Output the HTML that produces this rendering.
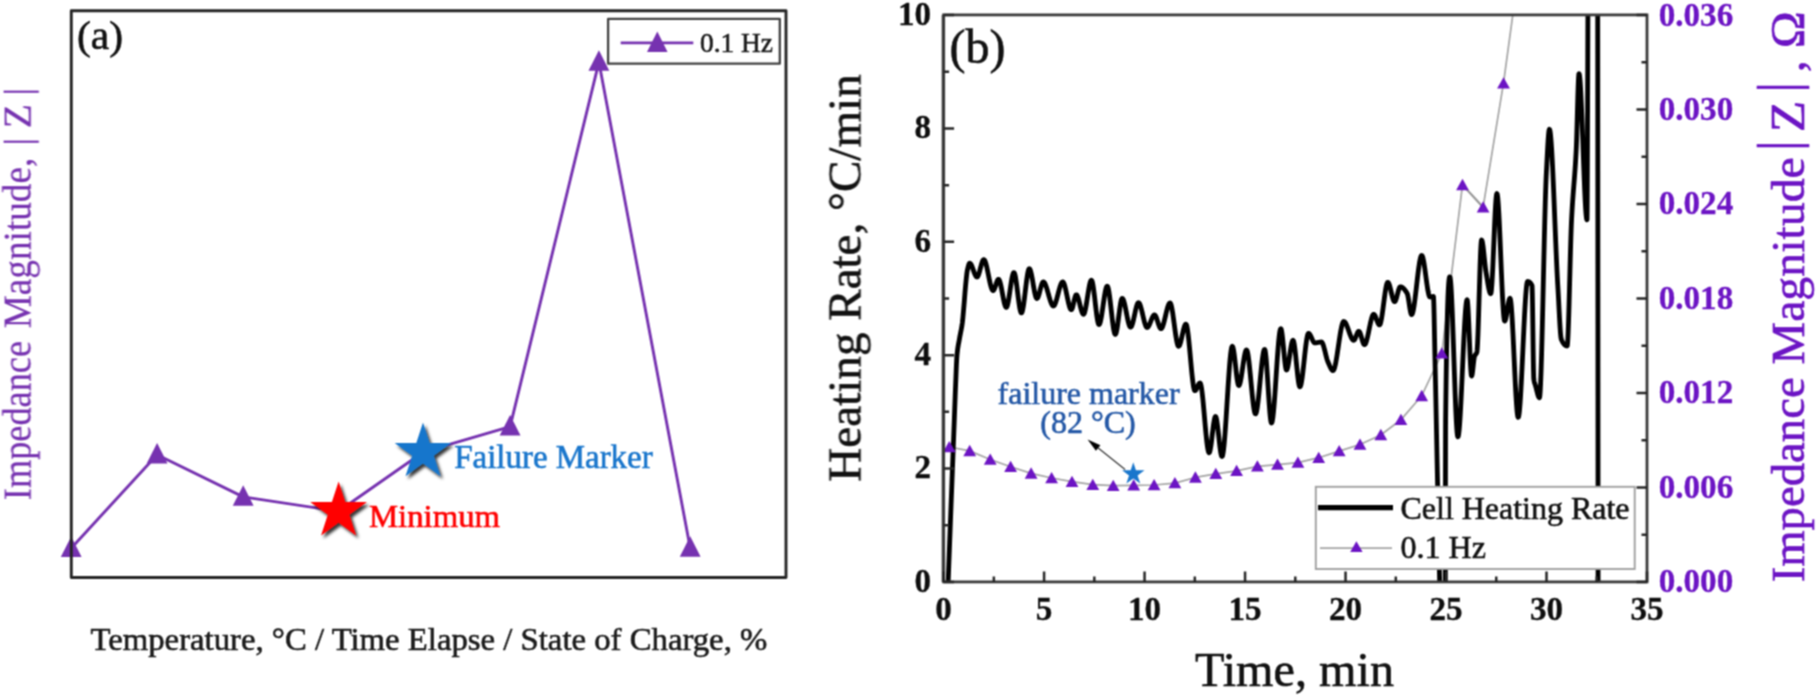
<!DOCTYPE html>
<html lang="en">
<head>
<meta charset="utf-8">
<title>Impedance magnitude failure marker</title>
<style>
html, body { margin: 0; padding: 0; background: #ffffff; }
body { width: 1818px; height: 697px; overflow: hidden; }
svg { display: block; font-family: "Liberation Serif", serif; }
text { stroke-width: 0.6px; stroke-linejoin: round; }
g.tk text { stroke-width: 0.3px; }
g.lt text { stroke-width: 0.25px; }
</style>
</head>
<body>
<svg width="1818" height="697" viewBox="0 0 1818 697">
<defs>
<filter id="sh" x="-20%" y="-20%" width="150%" height="150%">
<feDropShadow dx="2.4" dy="2.9" stdDeviation="1.7" flood-color="#000" flood-opacity="0.8"/>
</filter>
<filter id="soft" filterUnits="userSpaceOnUse" x="0" y="0" width="1818" height="697" color-interpolation-filters="sRGB">
<feConvolveMatrix order="3" kernelMatrix="1 2 1 2 4 2 1 2 1" edgeMode="duplicate" preserveAlpha="false"/>
</filter>
</defs>
<rect x="0" y="0" width="1818" height="697" fill="#ffffff"/>
<g filter="url(#soft)">
<g id="panelA">
<polyline fill="none" stroke="#7632B0" stroke-width="2.9" stroke-linejoin="round" points="71.2,548.2 157.1,454.7 243.2,496.9 338.6,511.3 423,452.2 510.1,426.7 598.9,62.1 690.2,548.1"/>
<polygon fill="#7632B0" points="71.2,536.45 60.8,556.95 81.6,556.95"/>
<polygon fill="#7632B0" points="157.1,442.95 146.7,463.45 167.5,463.45"/>
<polygon fill="#7632B0" points="243.2,485.15 232.8,505.65 253.6,505.65"/>
<polygon fill="#7632B0" points="510.1,414.95 499.7,435.45 520.5,435.45"/>
<polygon fill="#7632B0" points="598.9,50.35 588.5,70.85 609.3,70.85"/>
<polygon fill="#7632B0" points="690.2,536.35 679.8,556.85 700.6,556.85"/>
<rect x="71.3" y="10.8" width="714.7" height="566.7" fill="none" stroke="#242424" stroke-width="2.9" stroke-linejoin="round"/>
<g filter="url(#sh)">
<polygon fill="#1976CC" points="423,422.4 429.69,442.99 451.34,442.99 433.83,455.72 440.52,476.31 423,463.58 405.48,476.31 412.17,455.72 394.66,442.99 416.31,442.99"/>
<polygon fill="#FF0000" points="338.6,481.5 345.29,502.09 366.94,502.09 349.43,514.82 356.12,535.41 338.6,522.68 321.08,535.41 327.77,514.82 310.26,502.09 331.91,502.09"/>
</g>
<text x="454.2" y="468.2" font-size="33" fill="#1976CC" stroke="#1976CC" textLength="198.5" lengthAdjust="spacingAndGlyphs">Failure Marker</text>
<text x="369" y="526.7" font-size="32.5" fill="#FF0000" stroke="#FF0000" textLength="131" lengthAdjust="spacingAndGlyphs">Minimum</text>
<rect x="608.1" y="18.9" width="171.7" height="44.8" fill="#fff" stroke="#404040" stroke-width="2.3" stroke-linejoin="round"/>
<line x1="620.7" y1="42.9" x2="693.3" y2="42.9" stroke="#7632B0" stroke-width="2.7"/>
<polygon fill="#7632B0" points="657.3,31.5 647,52.1 667.6,52.1"/>
<text x="700" y="51.8" font-size="28" fill="#1a1a1a" stroke="#1a1a1a" textLength="73" lengthAdjust="spacingAndGlyphs">0.1 Hz</text>
<text x="77" y="49.3" font-size="41" fill="#111" stroke="#111" textLength="46.2" lengthAdjust="spacingAndGlyphs">(a)</text>
<text x="90.5" y="649.5" font-size="32" fill="#1a1a1a" stroke="#1a1a1a" textLength="676.8" lengthAdjust="spacingAndGlyphs">Temperature, °C / Time Elapse / State of Charge, %</text>
<g class="lt" transform="translate(30.6,0) rotate(-90)" fill="#7632B0" stroke="#7632B0" font-size="39.5">
<text x="-500.2" y="0" textLength="159.3" lengthAdjust="spacingAndGlyphs">Impedance</text>
<text x="-328.3" y="0" textLength="170.6" lengthAdjust="spacingAndGlyphs">Magnitude,</text>
<text x="-145.6" y="0" font-size="37.5">|</text>
<text x="-128.2" y="0">Z</text>
<text x="-95.4" y="0" font-size="37.5">|</text>
</g>
</g>
<g id="panelB">
<clipPath id="clipB"><rect x="943.6" y="15.1" width="703.4" height="566.8"/></clipPath>
<g clip-path="url(#clipB)">
<polyline fill="none" stroke="#a4a4a4" stroke-width="1.7" points="949.3,447 969.7,450.9 990.2,459.5 1010.6,466.8 1031.1,473.4 1051.6,478 1072,481.7 1092.8,484.7 1113.2,485.7 1133.7,485.3 1154.1,485 1174.9,483.1 1195.4,477.4 1215.8,473.8 1236.6,470.8 1257.4,466.3 1277.5,464.6 1297.9,462.6 1318.7,457.7 1339.2,451.1 1360,444.5 1380.8,434.9 1400.9,419.8 1421.7,395.9 1441.8,353.3 1462.5,184.9 1483.1,207.2 1503.5,83.2 1523,-60"/>
<line x1="1462.5" y1="184.9" x2="1483.1" y2="207.2" stroke="#999" stroke-width="2.1"/>
</g>
<g clip-path="url(#clipB)">
<path d="M947.5 600 L947.6 597.27 L947.7 594.55 L947.8 591.83 L947.9 589.11 L948 586.4 L948.1 583.7 L948.2 581 L948.31 578.02 L948.42 575.05 L948.53 572.08 L948.64 569.12 L948.75 566.15 L948.86 563.2 L948.97 560.24 L949.08 557.29 L949.19 554.34 L949.31 551.39 L949.42 548.45 L949.53 545.51 L949.64 542.57 L949.75 539.64 L949.86 536.7 L949.97 533.77 L950.08 530.85 L950.19 527.92 L950.3 525 L950.41 522.08 L950.52 519.17 L950.63 516.26 L950.74 513.36 L950.85 510.46 L950.96 507.57 L951.07 504.68 L951.18 501.79 L951.29 498.9 L951.41 496.01 L951.52 493.13 L951.63 490.24 L951.74 487.35 L951.85 484.47 L951.96 481.58 L952.07 478.69 L952.18 475.8 L952.29 472.9 L952.4 470 L952.51 467.07 L952.62 464.14 L952.74 461.21 L952.85 458.28 L952.96 455.35 L953.07 452.42 L953.18 449.49 L953.29 446.56 L953.41 443.62 L953.52 440.69 L953.63 437.75 L953.74 434.8 L953.85 431.85 L953.96 428.9 L954.08 425.94 L954.19 422.97 L954.3 420 L954.41 417.08 L954.52 414.12 L954.62 411.12 L954.73 408.1 L954.84 405.07 L954.95 402.06 L955.06 399.06 L955.17 396.11 L955.27 393.21 L955.38 390.39 L955.49 387.64 L955.6 385 L955.74 381.58 L955.88 378.07 L956.02 374.54 L956.16 371.04 L956.3 367.67 L956.44 364.48 L956.58 361.55 L956.72 358.95 L956.86 356.74 L957 355 L957.29 352.17 L957.58 349.76 L957.87 347.67 L958.16 345.85 L958.44 344.21 L958.73 342.68 L959.02 341.19 L959.31 339.65 L959.6 338 L959.9 336.28 L960.2 334.7 L960.5 333.2 L960.8 331.73 L961.1 330.24 L961.4 328.67 L961.7 326.98 L962 325.11 L962.3 323 L962.58 320.65 L962.87 317.89 L963.15 314.83 L963.43 311.59 L963.72 308.28 L964 305 L964.21 302.46 L964.43 299.76 L964.64 296.99 L964.86 294.21 L965.07 291.5 L965.29 288.94 L965.5 286.6 L965.77 283.78 L966.04 280.96 L966.31 278.23 L966.59 275.68 L966.86 273.4 L967.13 271.47 L967.4 270 L967.69 268.72 L967.98 267.49 L968.26 266.34 L968.55 265.31 L968.84 264.44 L969.12 263.78 L969.41 263.35 L969.7 263.2 L969.99 263.26 L970.28 263.45 L970.58 263.75 L970.87 264.15 L971.16 264.64 L971.45 265.2 L971.74 265.84 L972.04 266.53 L972.33 267.28 L972.62 268.06 L972.91 268.86 L973.2 269.69 L973.5 270.51 L973.79 271.34 L974.08 272.14 L974.37 272.92 L974.66 273.67 L974.96 274.36 L975.25 275 L975.54 275.56 L975.83 276.05 L976.12 276.45 L976.42 276.75 L976.71 276.94 L977 277 L977.3 276.9 L977.59 276.63 L977.89 276.19 L978.18 275.6 L978.48 274.89 L978.77 274.07 L979.07 273.15 L979.37 272.15 L979.66 271.09 L979.96 269.99 L980.25 268.87 L980.55 267.73 L980.84 266.61 L981.14 265.51 L981.43 264.45 L981.73 263.45 L982.03 262.53 L982.32 261.71 L982.62 261 L982.91 260.41 L983.21 259.97 L983.5 259.7 L983.8 259.6 L984.09 259.69 L984.38 259.95 L984.67 260.37 L984.96 260.93 L985.25 261.63 L985.54 262.46 L985.83 263.4 L986.12 264.44 L986.42 265.58 L986.71 266.79 L987 268.07 L987.29 269.41 L987.58 270.79 L987.87 272.21 L988.16 273.65 L988.45 275.1 L988.74 276.55 L989.03 277.99 L989.32 279.41 L989.61 280.79 L989.9 282.13 L990.19 283.41 L990.48 284.62 L990.77 285.76 L991.07 286.8 L991.36 287.74 L991.65 288.57 L991.94 289.27 L992.23 289.83 L992.52 290.25 L992.81 290.51 L993.1 290.6 L993.4 290.5 L993.7 290.21 L994 289.76 L994.3 289.17 L994.6 288.47 L994.9 287.67 L995.2 286.8 L995.5 285.89 L995.8 284.95 L996.1 284.01 L996.4 283.1 L996.7 282.23 L997 281.43 L997.3 280.73 L997.6 280.14 L997.9 279.69 L998.2 279.4 L998.5 279.3 L998.8 279.42 L999.1 279.77 L999.4 280.34 L999.7 281.09 L1000 282.02 L1000.3 283.1 L1000.6 284.31 L1000.9 285.64 L1001.2 287.07 L1001.5 288.57 L1001.8 290.13 L1002.1 291.73 L1002.4 293.35 L1002.7 294.97 L1003 296.57 L1003.3 298.13 L1003.6 299.63 L1003.9 301.06 L1004.2 302.39 L1004.5 303.6 L1004.8 304.68 L1005.1 305.61 L1005.4 306.36 L1005.7 306.93 L1006 307.28 L1006.3 307.4 L1006.59 307.25 L1006.88 306.81 L1007.18 306.12 L1007.47 305.18 L1007.76 304.03 L1008.05 302.7 L1008.35 301.19 L1008.64 299.54 L1008.93 297.78 L1009.22 295.92 L1009.52 293.98 L1009.81 292 L1010.1 290 L1010.39 288 L1010.68 286.02 L1010.98 284.08 L1011.27 282.22 L1011.56 280.46 L1011.85 278.81 L1012.15 277.3 L1012.44 275.97 L1012.73 274.82 L1013.02 273.88 L1013.32 273.19 L1013.61 272.75 L1013.9 272.6 L1014.2 272.79 L1014.5 273.33 L1014.8 274.2 L1015.1 275.36 L1015.4 276.79 L1015.7 278.45 L1016 280.31 L1016.3 282.34 L1016.6 284.51 L1016.9 286.79 L1017.2 289.14 L1017.5 291.54 L1017.8 293.96 L1018.1 296.36 L1018.4 298.71 L1018.7 300.99 L1019 303.16 L1019.3 305.19 L1019.6 307.05 L1019.9 308.71 L1020.2 310.14 L1020.5 311.3 L1020.8 312.17 L1021.1 312.71 L1021.4 312.9 L1021.69 312.72 L1021.99 312.21 L1022.28 311.38 L1022.57 310.28 L1022.86 308.91 L1023.16 307.32 L1023.45 305.53 L1023.74 303.56 L1024.03 301.44 L1024.33 299.2 L1024.62 296.87 L1024.91 294.47 L1025.2 292.03 L1025.5 289.57 L1025.79 287.13 L1026.08 284.73 L1026.37 282.4 L1026.67 280.16 L1026.96 278.04 L1027.25 276.07 L1027.54 274.28 L1027.84 272.69 L1028.13 271.32 L1028.42 270.22 L1028.71 269.39 L1029.01 268.88 L1029.3 268.7 L1029.59 268.83 L1029.88 269.2 L1030.18 269.8 L1030.47 270.6 L1030.76 271.58 L1031.05 272.73 L1031.35 274.02 L1031.64 275.43 L1031.93 276.94 L1032.22 278.53 L1032.52 280.19 L1032.81 281.88 L1033.1 283.6 L1033.39 285.32 L1033.68 287.01 L1033.98 288.67 L1034.27 290.26 L1034.56 291.77 L1034.85 293.18 L1035.15 294.47 L1035.44 295.62 L1035.73 296.6 L1036.02 297.4 L1036.32 298 L1036.61 298.37 L1036.9 298.5 L1037.19 298.4 L1037.48 298.11 L1037.77 297.66 L1038.06 297.05 L1038.35 296.32 L1038.65 295.47 L1038.94 294.53 L1039.23 293.51 L1039.52 292.44 L1039.81 291.33 L1040.1 290.2 L1040.39 289.07 L1040.68 287.96 L1040.97 286.89 L1041.26 285.87 L1041.55 284.93 L1041.85 284.08 L1042.14 283.35 L1042.43 282.74 L1042.72 282.29 L1043.01 282 L1043.3 281.9 L1043.6 281.96 L1043.89 282.14 L1044.19 282.43 L1044.49 282.82 L1044.79 283.31 L1045.08 283.89 L1045.38 284.54 L1045.68 285.27 L1045.97 286.07 L1046.27 286.93 L1046.57 287.84 L1046.86 288.79 L1047.16 289.78 L1047.46 290.79 L1047.76 291.83 L1048.05 292.89 L1048.35 293.95 L1048.65 295.01 L1048.94 296.07 L1049.24 297.11 L1049.54 298.12 L1049.84 299.11 L1050.13 300.06 L1050.43 300.97 L1050.73 301.83 L1051.02 302.63 L1051.32 303.36 L1051.62 304.01 L1051.91 304.59 L1052.21 305.08 L1052.51 305.47 L1052.81 305.76 L1053.1 305.94 L1053.4 306 L1053.7 305.93 L1054 305.71 L1054.3 305.37 L1054.6 304.9 L1054.9 304.32 L1055.2 303.64 L1055.5 302.87 L1055.8 302.01 L1056.1 301.09 L1056.4 300.09 L1056.7 299.05 L1057 297.96 L1057.3 296.84 L1057.6 295.69 L1057.9 294.53 L1058.2 293.37 L1058.5 292.21 L1058.8 291.06 L1059.1 289.94 L1059.4 288.85 L1059.7 287.81 L1060 286.81 L1060.3 285.89 L1060.6 285.03 L1060.9 284.26 L1061.2 283.58 L1061.5 283 L1061.8 282.53 L1062.1 282.19 L1062.4 281.97 L1062.7 281.9 L1063 282 L1063.29 282.28 L1063.59 282.73 L1063.89 283.34 L1064.18 284.09 L1064.48 284.98 L1064.78 285.98 L1065.07 287.08 L1065.37 288.27 L1065.67 289.54 L1065.96 290.86 L1066.26 292.24 L1066.56 293.65 L1066.85 295.08 L1067.15 296.52 L1067.44 297.95 L1067.74 299.36 L1068.04 300.74 L1068.33 302.06 L1068.63 303.33 L1068.93 304.52 L1069.22 305.62 L1069.52 306.62 L1069.82 307.51 L1070.11 308.26 L1070.41 308.87 L1070.71 309.32 L1071 309.6 L1071.3 309.7 L1071.59 309.55 L1071.89 309.13 L1072.18 308.47 L1072.48 307.61 L1072.77 306.59 L1073.06 305.44 L1073.36 304.2 L1073.65 302.91 L1073.95 301.59 L1074.24 300.3 L1074.54 299.06 L1074.83 297.91 L1075.12 296.89 L1075.42 296.03 L1075.71 295.37 L1076.01 294.95 L1076.3 294.8 L1076.59 294.89 L1076.88 295.15 L1077.16 295.58 L1077.45 296.14 L1077.74 296.83 L1078.03 297.63 L1078.32 298.53 L1078.6 299.51 L1078.89 300.56 L1079.18 301.66 L1079.47 302.8 L1079.76 303.97 L1080.04 305.13 L1080.33 306.3 L1080.62 307.44 L1080.91 308.54 L1081.2 309.59 L1081.48 310.57 L1081.77 311.47 L1082.06 312.27 L1082.35 312.96 L1082.64 313.52 L1082.92 313.95 L1083.21 314.21 L1083.5 314.3 L1083.79 314.16 L1084.09 313.77 L1084.38 313.13 L1084.67 312.28 L1084.96 311.22 L1085.26 310 L1085.55 308.61 L1085.84 307.09 L1086.13 305.46 L1086.43 303.73 L1086.72 301.93 L1087.01 300.08 L1087.3 298.2 L1087.6 296.3 L1087.89 294.42 L1088.18 292.57 L1088.47 290.77 L1088.77 289.04 L1089.06 287.41 L1089.35 285.89 L1089.64 284.5 L1089.94 283.28 L1090.23 282.22 L1090.52 281.37 L1090.81 280.73 L1091.11 280.34 L1091.4 280.2 L1091.69 280.39 L1091.98 280.95 L1092.28 281.84 L1092.57 283.03 L1092.86 284.49 L1093.15 286.2 L1093.45 288.12 L1093.74 290.22 L1094.03 292.48 L1094.32 294.85 L1094.62 297.32 L1094.91 299.84 L1095.2 302.4 L1095.49 304.96 L1095.78 307.48 L1096.08 309.95 L1096.37 312.32 L1096.66 314.58 L1096.95 316.68 L1097.25 318.6 L1097.54 320.31 L1097.83 321.77 L1098.12 322.96 L1098.42 323.85 L1098.71 324.41 L1099 324.6 L1099.29 324.46 L1099.59 324.04 L1099.88 323.37 L1100.17 322.47 L1100.46 321.36 L1100.76 320.07 L1101.05 318.6 L1101.34 316.99 L1101.64 315.25 L1101.93 313.4 L1102.22 311.48 L1102.51 309.49 L1102.81 307.45 L1103.1 305.4 L1103.39 303.35 L1103.69 301.31 L1103.98 299.32 L1104.27 297.4 L1104.56 295.55 L1104.86 293.81 L1105.15 292.2 L1105.44 290.73 L1105.74 289.44 L1106.03 288.33 L1106.32 287.43 L1106.61 286.76 L1106.91 286.34 L1107.2 286.2 L1107.5 286.39 L1107.8 286.95 L1108.1 287.85 L1108.4 289.06 L1108.7 290.55 L1109 292.28 L1109.3 294.24 L1109.6 296.39 L1109.9 298.7 L1110.2 301.14 L1110.5 303.68 L1110.8 306.3 L1111.1 308.96 L1111.4 311.64 L1111.7 314.3 L1112 316.92 L1112.3 319.46 L1112.6 321.9 L1112.9 324.21 L1113.2 326.36 L1113.5 328.32 L1113.8 330.05 L1114.1 331.54 L1114.4 332.75 L1114.7 333.65 L1115 334.21 L1115.3 334.4 L1115.59 334.22 L1115.88 333.69 L1116.16 332.85 L1116.45 331.73 L1116.74 330.36 L1117.03 328.77 L1117.31 327 L1117.6 325.07 L1117.89 323.01 L1118.17 320.86 L1118.46 318.64 L1118.75 316.4 L1119.04 314.16 L1119.33 311.94 L1119.61 309.79 L1119.9 307.73 L1120.19 305.8 L1120.47 304.03 L1120.76 302.44 L1121.05 301.07 L1121.34 299.95 L1121.62 299.11 L1121.91 298.58 L1122.2 298.4 L1122.5 298.51 L1122.8 298.82 L1123.1 299.32 L1123.4 300 L1123.7 300.83 L1124 301.8 L1124.3 302.9 L1124.6 304.11 L1124.9 305.41 L1125.2 306.8 L1125.5 308.24 L1125.8 309.74 L1126.1 311.26 L1126.4 312.8 L1126.7 314.34 L1127 315.86 L1127.3 317.36 L1127.6 318.8 L1127.9 320.19 L1128.2 321.49 L1128.5 322.7 L1128.8 323.8 L1129.1 324.77 L1129.4 325.6 L1129.7 326.28 L1130 326.78 L1130.3 327.09 L1130.6 327.2 L1130.89 327.1 L1131.19 326.82 L1131.48 326.36 L1131.77 325.75 L1132.06 324.99 L1132.36 324.11 L1132.65 323.11 L1132.94 322.02 L1133.23 320.85 L1133.53 319.61 L1133.82 318.31 L1134.11 316.98 L1134.4 315.63 L1134.7 314.27 L1134.99 312.92 L1135.28 311.59 L1135.57 310.29 L1135.87 309.05 L1136.16 307.88 L1136.45 306.79 L1136.74 305.79 L1137.04 304.91 L1137.33 304.15 L1137.62 303.54 L1137.91 303.08 L1138.21 302.8 L1138.5 302.7 L1138.8 302.79 L1139.09 303.04 L1139.39 303.44 L1139.69 303.99 L1139.98 304.66 L1140.28 305.45 L1140.58 306.34 L1140.87 307.32 L1141.17 308.38 L1141.47 309.51 L1141.76 310.7 L1142.06 311.92 L1142.36 313.18 L1142.65 314.46 L1142.95 315.74 L1143.24 317.02 L1143.54 318.28 L1143.84 319.5 L1144.13 320.69 L1144.43 321.82 L1144.73 322.88 L1145.02 323.86 L1145.32 324.75 L1145.62 325.54 L1145.91 326.21 L1146.21 326.76 L1146.51 327.16 L1146.8 327.41 L1147.1 327.5 L1147.4 327.44 L1147.69 327.27 L1147.99 327 L1148.28 326.64 L1148.58 326.19 L1148.88 325.67 L1149.17 325.09 L1149.47 324.46 L1149.76 323.78 L1150.06 323.06 L1150.36 322.33 L1150.65 321.58 L1150.95 320.82 L1151.24 320.07 L1151.54 319.34 L1151.84 318.62 L1152.13 317.94 L1152.43 317.31 L1152.72 316.73 L1153.02 316.21 L1153.32 315.76 L1153.61 315.4 L1153.91 315.13 L1154.2 314.96 L1154.5 314.9 L1154.8 314.98 L1155.09 315.22 L1155.39 315.6 L1155.68 316.1 L1155.98 316.71 L1156.27 317.42 L1156.57 318.2 L1156.86 319.05 L1157.16 319.94 L1157.45 320.86 L1157.75 321.8 L1158.05 322.74 L1158.34 323.66 L1158.64 324.55 L1158.93 325.4 L1159.23 326.18 L1159.52 326.89 L1159.82 327.5 L1160.11 328 L1160.41 328.38 L1160.7 328.62 L1161 328.7 L1161.3 328.62 L1161.6 328.37 L1161.9 327.98 L1162.2 327.45 L1162.5 326.8 L1162.8 326.03 L1163.1 325.16 L1163.4 324.19 L1163.7 323.15 L1164 322.04 L1164.3 320.87 L1164.6 319.65 L1164.9 318.4 L1165.2 317.13 L1165.5 315.85 L1165.8 314.57 L1166.1 313.3 L1166.4 312.05 L1166.7 310.83 L1167 309.66 L1167.3 308.55 L1167.6 307.51 L1167.9 306.54 L1168.2 305.67 L1168.5 304.9 L1168.8 304.25 L1169.1 303.72 L1169.4 303.33 L1169.7 303.08 L1170 303 L1170.3 303.15 L1170.59 303.59 L1170.89 304.29 L1171.19 305.24 L1171.48 306.42 L1171.78 307.79 L1172.08 309.35 L1172.37 311.07 L1172.67 312.92 L1172.97 314.9 L1173.26 316.96 L1173.56 319.11 L1173.86 321.3 L1174.15 323.53 L1174.45 325.77 L1174.74 328 L1175.04 330.19 L1175.34 332.34 L1175.63 334.4 L1175.93 336.38 L1176.23 338.23 L1176.52 339.95 L1176.82 341.51 L1177.12 342.88 L1177.41 344.06 L1177.71 345.01 L1178.01 345.71 L1178.3 346.15 L1178.6 346.3 L1178.89 346.2 L1179.18 345.9 L1179.48 345.42 L1179.77 344.78 L1180.06 343.99 L1180.35 343.08 L1180.64 342.05 L1180.94 340.94 L1181.23 339.74 L1181.52 338.49 L1181.81 337.19 L1182.1 335.87 L1182.4 334.53 L1182.69 333.21 L1182.98 331.91 L1183.27 330.66 L1183.56 329.46 L1183.86 328.35 L1184.15 327.32 L1184.44 326.41 L1184.73 325.62 L1185.02 324.98 L1185.32 324.5 L1185.61 324.2 L1185.9 324.1 L1186.2 324.32 L1186.5 324.95 L1186.8 325.96 L1187.1 327.34 L1187.4 329.03 L1187.7 331.03 L1188 333.29 L1188.3 335.78 L1188.6 338.49 L1188.9 341.37 L1189.2 344.4 L1189.5 347.54 L1189.8 350.78 L1190.1 354.07 L1190.4 357.4 L1190.7 360.73 L1191 364.02 L1191.3 367.26 L1191.6 370.4 L1191.9 373.43 L1192.2 376.31 L1192.5 379.02 L1192.8 381.51 L1193.1 383.77 L1193.4 385.77 L1193.7 387.46 L1194 388.84 L1194.3 389.85 L1194.6 390.48 L1194.9 390.7 L1195.2 390.62 L1195.5 390.41 L1195.8 390.07 L1196.1 389.62 L1196.4 389.09 L1196.7 388.5 L1197 387.86 L1197.3 387.19 L1197.6 386.51 L1197.9 385.84 L1198.2 385.2 L1198.5 384.61 L1198.8 384.08 L1199.1 383.63 L1199.4 383.29 L1199.7 383.08 L1200 383 L1200.29 383.21 L1200.59 383.83 L1200.88 384.83 L1201.17 386.18 L1201.47 387.85 L1201.76 389.82 L1202.05 392.06 L1202.35 394.53 L1202.64 397.21 L1202.94 400.08 L1203.23 403.1 L1203.52 406.25 L1203.82 409.49 L1204.11 412.81 L1204.4 416.16 L1204.7 419.54 L1204.99 422.89 L1205.28 426.21 L1205.58 429.45 L1205.87 432.6 L1206.16 435.62 L1206.46 438.49 L1206.75 441.17 L1207.05 443.64 L1207.34 445.88 L1207.63 447.85 L1207.93 449.52 L1208.22 450.87 L1208.51 451.87 L1208.81 452.49 L1209.1 452.7 L1209.39 452.48 L1209.68 451.86 L1209.97 450.86 L1210.26 449.55 L1210.55 447.94 L1210.85 446.09 L1211.14 444.04 L1211.43 441.82 L1211.72 439.48 L1212.01 437.06 L1212.3 434.6 L1212.59 432.14 L1212.88 429.72 L1213.17 427.38 L1213.46 425.16 L1213.75 423.11 L1214.05 421.26 L1214.34 419.65 L1214.63 418.34 L1214.92 417.34 L1215.21 416.72 L1215.5 416.5 L1215.8 416.74 L1216.09 417.43 L1216.39 418.53 L1216.68 419.99 L1216.98 421.76 L1217.27 423.8 L1217.57 426.07 L1217.86 428.52 L1218.16 431.11 L1218.45 433.78 L1218.75 436.5 L1219.05 439.22 L1219.34 441.89 L1219.64 444.48 L1219.93 446.93 L1220.23 449.2 L1220.52 451.24 L1220.82 453.01 L1221.11 454.47 L1221.41 455.57 L1221.7 456.26 L1222 456.5 L1222.28 456.26 L1222.56 455.57 L1222.84 454.44 L1223.11 452.91 L1223.39 451.01 L1223.67 448.75 L1223.95 446.16 L1224.23 443.27 L1224.51 440.11 L1224.78 436.7 L1225.06 433.07 L1225.34 429.24 L1225.62 425.25 L1225.9 421.11 L1226.18 416.85 L1226.45 412.5 L1226.73 408.09 L1227.01 403.63 L1227.29 399.17 L1227.57 394.71 L1227.85 390.3 L1228.12 385.95 L1228.4 381.69 L1228.68 377.55 L1228.96 373.56 L1229.24 369.73 L1229.52 366.1 L1229.79 362.69 L1230.07 359.53 L1230.35 356.64 L1230.63 354.05 L1230.91 351.79 L1231.19 349.89 L1231.46 348.36 L1231.74 347.23 L1232.02 346.54 L1232.3 346.3 L1232.6 346.54 L1232.89 347.21 L1233.19 348.29 L1233.48 349.72 L1233.78 351.45 L1234.07 353.46 L1234.37 355.68 L1234.66 358.08 L1234.96 360.61 L1235.25 363.23 L1235.55 365.9 L1235.85 368.57 L1236.14 371.19 L1236.44 373.72 L1236.73 376.12 L1237.03 378.34 L1237.32 380.35 L1237.62 382.08 L1237.91 383.51 L1238.21 384.59 L1238.5 385.26 L1238.8 385.5 L1239.1 385.35 L1239.39 384.9 L1239.69 384.19 L1239.98 383.23 L1240.28 382.06 L1240.58 380.69 L1240.87 379.15 L1241.17 377.46 L1241.47 375.66 L1241.76 373.75 L1242.06 371.78 L1242.35 369.75 L1242.65 367.7 L1242.95 365.65 L1243.24 363.62 L1243.54 361.65 L1243.83 359.74 L1244.13 357.94 L1244.43 356.25 L1244.72 354.71 L1245.02 353.34 L1245.32 352.17 L1245.61 351.21 L1245.91 350.5 L1246.2 350.05 L1246.5 349.9 L1246.8 350.11 L1247.1 350.72 L1247.4 351.69 L1247.7 353.01 L1248 354.64 L1248.3 356.56 L1248.6 358.73 L1248.9 361.13 L1249.2 363.72 L1249.5 366.49 L1249.8 369.4 L1250.1 372.43 L1250.4 375.54 L1250.7 378.7 L1251 381.9 L1251.3 385.1 L1251.6 388.26 L1251.9 391.37 L1252.2 394.4 L1252.5 397.31 L1252.8 400.08 L1253.1 402.67 L1253.4 405.07 L1253.7 407.24 L1254 409.16 L1254.3 410.79 L1254.6 412.11 L1254.9 413.08 L1255.2 413.69 L1255.5 413.9 L1255.79 413.7 L1256.09 413.13 L1256.38 412.2 L1256.67 410.96 L1256.97 409.41 L1257.26 407.59 L1257.55 405.52 L1257.85 403.23 L1258.14 400.75 L1258.44 398.09 L1258.73 395.3 L1259.02 392.39 L1259.32 389.38 L1259.61 386.32 L1259.9 383.21 L1260.2 380.09 L1260.49 376.98 L1260.78 373.92 L1261.08 370.91 L1261.37 368 L1261.66 365.21 L1261.96 362.55 L1262.25 360.07 L1262.55 357.78 L1262.84 355.71 L1263.13 353.89 L1263.43 352.34 L1263.72 351.1 L1264.01 350.17 L1264.31 349.6 L1264.6 349.4 L1264.88 349.74 L1265.15 350.74 L1265.43 352.33 L1265.7 354.45 L1265.98 357.05 L1266.26 360.08 L1266.53 363.48 L1266.81 367.19 L1267.08 371.15 L1267.36 375.31 L1267.64 379.61 L1267.91 383.99 L1268.19 388.41 L1268.46 392.79 L1268.74 397.09 L1269.02 401.25 L1269.29 405.21 L1269.57 408.92 L1269.84 412.32 L1270.12 415.35 L1270.4 417.95 L1270.67 420.07 L1270.95 421.66 L1271.22 422.66 L1271.5 423 L1271.79 422.73 L1272.08 421.94 L1272.37 420.67 L1272.66 418.95 L1272.95 416.81 L1273.24 414.3 L1273.53 411.44 L1273.83 408.27 L1274.12 404.82 L1274.41 401.13 L1274.7 397.23 L1274.99 393.16 L1275.28 388.96 L1275.57 384.64 L1275.86 380.26 L1276.15 375.85 L1276.44 371.44 L1276.73 367.06 L1277.02 362.74 L1277.31 358.54 L1277.6 354.47 L1277.89 350.57 L1278.18 346.88 L1278.47 343.43 L1278.77 340.26 L1279.06 337.4 L1279.35 334.89 L1279.64 332.75 L1279.93 331.03 L1280.22 329.76 L1280.51 328.97 L1280.8 328.7 L1281.09 329 L1281.37 329.86 L1281.65 331.21 L1281.94 333 L1282.22 335.15 L1282.51 337.62 L1282.8 340.34 L1283.08 343.24 L1283.37 346.26 L1283.65 349.35 L1283.93 352.44 L1284.22 355.46 L1284.5 358.36 L1284.79 361.08 L1285.08 363.55 L1285.36 365.7 L1285.64 367.49 L1285.93 368.84 L1286.21 369.7 L1286.5 370 L1286.8 369.82 L1287.09 369.31 L1287.39 368.49 L1287.68 367.41 L1287.98 366.1 L1288.27 364.58 L1288.57 362.89 L1288.86 361.07 L1289.16 359.16 L1289.45 357.17 L1289.75 355.15 L1290.05 353.13 L1290.34 351.14 L1290.64 349.23 L1290.93 347.41 L1291.23 345.72 L1291.52 344.2 L1291.82 342.89 L1292.11 341.81 L1292.41 340.99 L1292.7 340.48 L1293 340.3 L1293.29 340.54 L1293.58 341.21 L1293.86 342.3 L1294.15 343.74 L1294.44 345.51 L1294.72 347.57 L1295.01 349.86 L1295.3 352.36 L1295.59 355.01 L1295.88 357.79 L1296.16 360.65 L1296.45 363.55 L1296.74 366.45 L1297.03 369.31 L1297.31 372.09 L1297.6 374.74 L1297.89 377.24 L1298.18 379.53 L1298.46 381.59 L1298.75 383.36 L1299.04 384.8 L1299.33 385.89 L1299.61 386.56 L1299.9 386.8 L1300.2 386.61 L1300.49 386.07 L1300.79 385.2 L1301.09 384.03 L1301.38 382.59 L1301.68 380.89 L1301.98 378.97 L1302.27 376.85 L1302.57 374.56 L1302.87 372.13 L1303.16 369.58 L1303.46 366.94 L1303.76 364.23 L1304.05 361.48 L1304.35 358.72 L1304.64 355.97 L1304.94 353.26 L1305.24 350.62 L1305.53 348.07 L1305.83 345.64 L1306.13 343.35 L1306.42 341.23 L1306.72 339.31 L1307.02 337.61 L1307.31 336.17 L1307.61 335 L1307.91 334.13 L1308.2 333.59 L1308.5 333.4 L1308.79 333.46 L1309.08 333.62 L1309.37 333.88 L1309.66 334.23 L1309.95 334.65 L1310.25 335.13 L1310.54 335.67 L1310.83 336.25 L1311.12 336.87 L1311.41 337.5 L1311.7 338.15 L1311.99 338.8 L1312.28 339.43 L1312.57 340.05 L1312.86 340.63 L1313.15 341.17 L1313.45 341.65 L1313.74 342.07 L1314.03 342.42 L1314.32 342.68 L1314.61 342.84 L1314.9 342.9 L1315.2 342.89 L1315.49 342.88 L1315.79 342.85 L1316.08 342.82 L1316.38 342.78 L1316.67 342.74 L1316.97 342.68 L1317.26 342.63 L1317.56 342.57 L1317.85 342.51 L1318.15 342.45 L1318.45 342.39 L1318.74 342.33 L1319.04 342.27 L1319.33 342.22 L1319.63 342.16 L1319.92 342.12 L1320.22 342.08 L1320.51 342.05 L1320.81 342.02 L1321.1 342.01 L1321.4 342 L1321.7 342.09 L1322 342.36 L1322.3 342.78 L1322.6 343.36 L1322.9 344.06 L1323.2 344.88 L1323.5 345.8 L1323.8 346.81 L1324.1 347.89 L1324.4 349.03 L1324.7 350.21 L1325 351.43 L1325.3 352.65 L1325.6 353.88 L1325.9 355.1 L1326.2 356.29 L1326.5 357.43 L1326.8 358.52 L1327.1 359.53 L1327.4 360.46 L1327.7 361.29 L1328 362 L1328.29 362.65 L1328.59 363.32 L1328.88 364.01 L1329.18 364.7 L1329.47 365.38 L1329.76 366.06 L1330.06 366.72 L1330.35 367.35 L1330.65 367.95 L1330.94 368.51 L1331.24 369.02 L1331.53 369.47 L1331.82 369.85 L1332.12 370.17 L1332.41 370.4 L1332.71 370.55 L1333 370.6 L1333.3 370.49 L1333.6 370.16 L1333.9 369.63 L1334.2 368.92 L1334.5 368.02 L1334.8 366.96 L1335.1 365.75 L1335.4 364.4 L1335.7 362.93 L1336 361.34 L1336.3 359.65 L1336.6 357.87 L1336.9 356.02 L1337.2 354.1 L1337.5 352.13 L1337.8 350.12 L1338.1 348.09 L1338.4 346.05 L1338.7 344.01 L1339 341.98 L1339.3 339.97 L1339.6 338 L1339.9 336.08 L1340.2 334.23 L1340.5 332.45 L1340.8 330.76 L1341.1 329.17 L1341.4 327.7 L1341.7 326.35 L1342 325.14 L1342.3 324.08 L1342.6 323.18 L1342.9 322.47 L1343.2 321.94 L1343.5 321.61 L1343.8 321.5 L1344.09 321.55 L1344.38 321.69 L1344.67 321.91 L1344.96 322.22 L1345.26 322.6 L1345.55 323.05 L1345.84 323.56 L1346.13 324.13 L1346.42 324.75 L1346.71 325.42 L1347 326.13 L1347.29 326.87 L1347.59 327.64 L1347.88 328.44 L1348.17 329.25 L1348.46 330.07 L1348.75 330.9 L1349.04 331.73 L1349.33 332.55 L1349.62 333.36 L1349.91 334.16 L1350.21 334.93 L1350.5 335.67 L1350.79 336.38 L1351.08 337.05 L1351.37 337.67 L1351.66 338.24 L1351.95 338.75 L1352.24 339.2 L1352.54 339.58 L1352.83 339.89 L1353.12 340.11 L1353.41 340.25 L1353.7 340.3 L1354 340.21 L1354.3 339.96 L1354.6 339.56 L1354.9 339.04 L1355.2 338.42 L1355.5 337.73 L1355.8 336.98 L1356.1 336.2 L1356.4 335.4 L1356.7 334.62 L1357 333.87 L1357.3 333.18 L1357.6 332.56 L1357.9 332.04 L1358.2 331.64 L1358.5 331.39 L1358.8 331.3 L1359.09 331.4 L1359.37 331.68 L1359.65 332.11 L1359.94 332.69 L1360.22 333.39 L1360.51 334.19 L1360.8 335.08 L1361.08 336.02 L1361.37 337 L1361.65 338 L1361.93 339 L1362.22 339.98 L1362.5 340.92 L1362.79 341.81 L1363.08 342.61 L1363.36 343.31 L1363.64 343.89 L1363.93 344.32 L1364.21 344.6 L1364.5 344.7 L1364.8 344.61 L1365.09 344.34 L1365.39 343.9 L1365.69 343.31 L1365.98 342.58 L1366.28 341.72 L1366.58 340.75 L1366.87 339.67 L1367.17 338.5 L1367.47 337.25 L1367.76 335.93 L1368.06 334.56 L1368.36 333.15 L1368.65 331.7 L1368.95 330.24 L1369.25 328.76 L1369.55 327.3 L1369.84 325.85 L1370.14 324.44 L1370.44 323.07 L1370.73 321.75 L1371.03 320.5 L1371.33 319.33 L1371.62 318.25 L1371.92 317.28 L1372.22 316.42 L1372.51 315.69 L1372.81 315.1 L1373.11 314.66 L1373.4 314.39 L1373.7 314.3 L1373.99 314.38 L1374.28 314.6 L1374.57 314.94 L1374.86 315.4 L1375.15 315.96 L1375.44 316.59 L1375.73 317.29 L1376.02 318.03 L1376.31 318.81 L1376.6 319.6 L1376.89 320.39 L1377.18 321.17 L1377.47 321.91 L1377.76 322.61 L1378.05 323.24 L1378.34 323.8 L1378.63 324.26 L1378.92 324.6 L1379.21 324.82 L1379.5 324.9 L1379.8 324.74 L1380.09 324.28 L1380.39 323.54 L1380.69 322.54 L1380.98 321.31 L1381.28 319.87 L1381.58 318.24 L1381.87 316.45 L1382.17 314.53 L1382.46 312.48 L1382.76 310.34 L1383.06 308.13 L1383.35 305.88 L1383.65 303.6 L1383.95 301.32 L1384.24 299.07 L1384.54 296.86 L1384.84 294.72 L1385.13 292.67 L1385.43 290.75 L1385.72 288.96 L1386.02 287.33 L1386.32 285.89 L1386.61 284.66 L1386.91 283.66 L1387.21 282.92 L1387.5 282.46 L1387.8 282.3 L1388.1 282.41 L1388.39 282.71 L1388.69 283.2 L1388.98 283.86 L1389.28 284.65 L1389.57 285.57 L1389.87 286.6 L1390.17 287.71 L1390.46 288.89 L1390.76 290.11 L1391.05 291.37 L1391.35 292.63 L1391.64 293.89 L1391.94 295.11 L1392.23 296.29 L1392.53 297.4 L1392.83 298.43 L1393.12 299.35 L1393.42 300.14 L1393.71 300.8 L1394.01 301.29 L1394.3 301.59 L1394.6 301.7 L1394.88 301.59 L1395.17 301.28 L1395.45 300.79 L1395.74 300.15 L1396.02 299.37 L1396.31 298.48 L1396.6 297.5 L1396.88 296.46 L1397.16 295.36 L1397.45 294.25 L1397.73 293.14 L1398.02 292.04 L1398.3 291 L1398.59 290.02 L1398.88 289.13 L1399.16 288.35 L1399.44 287.71 L1399.73 287.22 L1400.01 286.91 L1400.3 286.8 L1400.6 286.82 L1400.89 286.86 L1401.19 286.94 L1401.48 287.04 L1401.78 287.17 L1402.07 287.33 L1402.37 287.51 L1402.67 287.72 L1402.96 287.95 L1403.26 288.21 L1403.55 288.49 L1403.85 288.79 L1404.14 289.11 L1404.44 289.45 L1404.73 289.81 L1405.03 290.19 L1405.33 290.59 L1405.62 291 L1405.92 291.43 L1406.21 291.88 L1406.51 292.34 L1406.8 292.81 L1407.1 293.3 L1407.4 294.01 L1407.7 295.09 L1408 296.47 L1408.3 298.11 L1408.6 299.93 L1408.9 301.88 L1409.2 303.88 L1409.5 305.88 L1409.8 307.82 L1410.1 309.63 L1410.4 311.25 L1410.7 312.62 L1411 313.68 L1411.3 314.36 L1411.6 314.6 L1411.9 314.45 L1412.19 314.01 L1412.49 313.3 L1412.79 312.34 L1413.09 311.14 L1413.38 309.73 L1413.68 308.12 L1413.98 306.32 L1414.27 304.37 L1414.57 302.27 L1414.87 300.04 L1415.16 297.71 L1415.46 295.29 L1415.76 292.79 L1416.06 290.24 L1416.35 287.65 L1416.65 285.05 L1416.95 282.45 L1417.24 279.86 L1417.54 277.31 L1417.84 274.81 L1418.14 272.39 L1418.43 270.06 L1418.73 267.83 L1419.03 265.73 L1419.32 263.78 L1419.62 261.98 L1419.92 260.37 L1420.21 258.96 L1420.51 257.76 L1420.81 256.8 L1421.11 256.09 L1421.4 255.65 L1421.7 255.5 L1422 255.66 L1422.29 256.1 L1422.59 256.83 L1422.89 257.8 L1423.18 259 L1423.48 260.4 L1423.78 261.98 L1424.07 263.73 L1424.37 265.61 L1424.66 267.6 L1424.96 269.68 L1425.26 271.83 L1425.55 274.03 L1425.85 276.25 L1426.15 278.47 L1426.44 280.67 L1426.74 282.82 L1427.04 284.9 L1427.33 286.89 L1427.63 288.77 L1427.92 290.52 L1428.22 292.1 L1428.52 293.5 L1428.81 294.7 L1429.11 295.67 L1429.41 296.4 L1429.7 296.84 L1430 297 L1430.28 296.99 L1430.57 296.96 L1430.85 296.92 L1431.13 296.87 L1431.42 296.81 L1431.7 296.75 L1431.98 296.69 L1432.27 296.63 L1432.55 296.58 L1432.83 296.54 L1433.12 296.51 L1433.4 296.5 L1433.47 296.75 L1433.55 297.46 L1433.62 298.61 L1433.69 300.17 L1433.76 302.09 L1433.84 304.36 L1433.91 306.93 L1433.98 309.77 L1434.05 312.86 L1434.13 316.15 L1434.2 319.62 L1434.27 323.23 L1434.35 326.95 L1434.42 330.75 L1434.49 334.59 L1434.56 338.45 L1434.64 342.28 L1434.71 346.06 L1434.78 349.76 L1434.85 353.33 L1434.93 356.76 L1435 360 L1435.06 362.71 L1435.12 365.46 L1435.19 368.24 L1435.25 371.05 L1435.31 373.89 L1435.38 376.75 L1435.44 379.65 L1435.5 382.56 L1435.56 385.5 L1435.62 388.46 L1435.69 391.44 L1435.75 394.44 L1435.81 397.46 L1435.88 400.49 L1435.94 403.53 L1436 406.59 L1436.06 409.66 L1436.12 412.74 L1436.19 415.83 L1436.25 418.93 L1436.31 422.03 L1436.38 425.13 L1436.44 428.24 L1436.5 431.34 L1436.56 434.45 L1436.62 437.56 L1436.69 440.66 L1436.75 443.76 L1436.81 446.85 L1436.88 449.93 L1436.94 453 L1437 456.06 L1437.06 459.11 L1437.12 462.15 L1437.19 465.17 L1437.25 468.18 L1437.31 471.16 L1437.38 474.13 L1437.44 477.08 L1437.5 480 L1437.57 483.08 L1437.63 486.17 L1437.7 489.27 L1437.76 492.37 L1437.83 495.49 L1437.9 498.61 L1437.96 501.74 L1438.03 504.87 L1438.09 508.01 L1438.16 511.15 L1438.23 514.29 L1438.29 517.43 L1438.36 520.57 L1438.42 523.71 L1438.49 526.85 L1438.56 529.98 L1438.62 533.11 L1438.69 536.24 L1438.75 539.36 L1438.82 542.47 L1438.89 545.57 L1438.95 548.66 L1439.02 551.75 L1439.08 554.82 L1439.15 557.88 L1439.21 560.92 L1439.28 563.95 L1439.35 566.97 L1439.41 569.97 L1439.48 572.95 L1439.54 575.91 L1439.61 578.86 L1439.68 581.78 L1439.74 584.68 L1439.81 587.56 L1439.87 590.42 L1439.94 593.25 L1440.01 596.06 L1440.07 598.84 L1440.14 601.59 L1440.2 604.31 L1440.27 607.01 L1440.34 609.67 L1440.4 612.3 L1440.47 614.9 L1440.53 617.47 L1440.6 620 L1440.69 623.46 L1440.78 627.06 L1440.87 630.77 L1440.96 634.58 L1441.04 638.46 L1441.13 642.39 L1441.22 646.36 L1441.31 650.33 L1441.4 654.29 L1441.49 658.22 L1441.58 662.1 L1441.67 665.91 L1441.76 669.62 L1441.84 673.22 L1441.93 676.68 L1442.02 679.98 L1442.11 683.11 L1442.2 686.03 L1442.29 688.74 L1442.38 691.21 L1442.47 693.42 L1442.56 695.34 L1442.64 696.96 L1442.73 698.26 L1442.82 699.21 L1442.91 699.8 L1443 700 L1443.08 699.93 L1443.16 699.69 L1443.24 699.3 L1443.33 698.74 L1443.41 697.99 L1443.49 697.06 L1443.57 695.93 L1443.65 694.6 L1443.73 693.06 L1443.81 691.3 L1443.9 689.31 L1443.98 687.09 L1444.06 684.62 L1444.14 681.9 L1444.22 678.92 L1444.3 675.67 L1444.39 672.15 L1444.47 668.34 L1444.55 664.25 L1444.63 659.85 L1444.71 655.14 L1444.79 650.12 L1444.87 644.78 L1444.96 639.1 L1445.04 633.08 L1445.12 626.72 L1445.2 620 L1445.21 619.38 L1445.21 618.55 L1445.22 617.51 L1445.22 616.27 L1445.23 614.83 L1445.24 613.21 L1445.24 611.4 L1445.25 609.41 L1445.25 607.26 L1445.26 604.94 L1445.27 602.47 L1445.27 599.85 L1445.28 597.08 L1445.28 594.18 L1445.29 591.15 L1445.3 588 L1445.3 584.73 L1445.31 581.36 L1445.31 577.88 L1445.32 574.3 L1445.33 570.63 L1445.33 566.89 L1445.34 563.06 L1445.34 559.17 L1445.35 555.21 L1445.36 551.2 L1445.36 547.13 L1445.37 543.03 L1445.37 538.88 L1445.38 534.71 L1445.39 530.51 L1445.39 526.3 L1445.4 522.08 L1445.4 517.85 L1445.41 513.63 L1445.41 509.42 L1445.42 505.22 L1445.43 501.05 L1445.43 496.91 L1445.44 492.8 L1445.44 488.74 L1445.45 484.73 L1445.46 480.77 L1445.46 476.88 L1445.47 473.06 L1445.47 469.31 L1445.48 465.64 L1445.49 462.07 L1445.49 458.59 L1445.5 455.22 L1445.5 451.95 L1445.51 448.8 L1445.52 445.77 L1445.52 442.87 L1445.53 440.11 L1445.53 437.49 L1445.54 435.02 L1445.55 432.71 L1445.55 430.56 L1445.56 428.58 L1445.56 426.77 L1445.57 425.15 L1445.58 423.71 L1445.58 422.48 L1445.59 421.44 L1445.59 420.61 L1445.6 420 L1445.69 412.77 L1445.77 405.77 L1445.86 399.01 L1445.95 392.47 L1446.04 386.16 L1446.12 380.08 L1446.21 374.21 L1446.3 368.55 L1446.39 363.11 L1446.47 357.87 L1446.56 352.83 L1446.65 348 L1446.74 343.36 L1446.82 338.92 L1446.91 334.66 L1447 330.6 L1447.09 326.71 L1447.17 323 L1447.26 319.46 L1447.35 316.1 L1447.44 312.91 L1447.52 309.88 L1447.61 307 L1447.7 304.29 L1447.79 301.73 L1447.88 299.32 L1447.96 297.05 L1448.05 294.93 L1448.14 292.94 L1448.22 291.09 L1448.31 289.38 L1448.4 287.79 L1448.49 286.32 L1448.58 284.98 L1448.66 283.75 L1448.75 282.63 L1448.84 281.63 L1448.92 280.73 L1449.01 279.94 L1449.1 279.24 L1449.19 278.64 L1449.27 278.13 L1449.36 277.71 L1449.45 277.37 L1449.54 277.12 L1449.62 276.94 L1449.71 276.83 L1449.8 276.8 L1449.95 276.96 L1450.1 277.44 L1450.25 278.23 L1450.4 279.3 L1450.55 280.66 L1450.7 282.29 L1450.85 284.17 L1451 286.29 L1451.15 288.65 L1451.3 291.23 L1451.45 294.01 L1451.6 296.99 L1451.75 300.15 L1451.9 303.49 L1452.05 306.98 L1452.2 310.62 L1452.35 314.39 L1452.5 318.28 L1452.65 322.28 L1452.8 326.39 L1452.95 330.57 L1453.1 334.83 L1453.25 339.15 L1453.4 343.52 L1453.55 347.93 L1453.7 352.36 L1453.85 356.8 L1454 361.24 L1454.15 365.67 L1454.3 370.08 L1454.45 374.45 L1454.6 378.77 L1454.75 383.03 L1454.9 387.21 L1455.05 391.32 L1455.2 395.32 L1455.35 399.21 L1455.5 402.98 L1455.65 406.62 L1455.8 410.11 L1455.95 413.45 L1456.1 416.61 L1456.25 419.59 L1456.4 422.37 L1456.55 424.95 L1456.7 427.31 L1456.85 429.43 L1457 431.31 L1457.15 432.94 L1457.3 434.3 L1457.45 435.37 L1457.6 436.16 L1457.75 436.64 L1457.9 436.8 L1458.1 436.61 L1458.3 436.05 L1458.5 435.13 L1458.7 433.87 L1458.9 432.3 L1459.1 430.42 L1459.3 428.25 L1459.5 425.81 L1459.7 423.12 L1459.9 420.19 L1460.1 417.04 L1460.3 413.69 L1460.5 410.16 L1460.7 406.45 L1460.9 402.6 L1461.1 398.61 L1461.3 394.5 L1461.5 390.29 L1461.7 385.99 L1461.9 381.63 L1462.1 377.21 L1462.3 372.76 L1462.5 368.3 L1462.7 363.84 L1462.9 359.39 L1463.1 354.97 L1463.3 350.61 L1463.5 346.31 L1463.7 342.1 L1463.9 337.99 L1464.1 334 L1464.3 330.15 L1464.5 326.44 L1464.7 322.91 L1464.9 319.56 L1465.1 316.41 L1465.3 313.48 L1465.5 310.79 L1465.7 308.35 L1465.9 306.18 L1466.1 304.3 L1466.3 302.73 L1466.5 301.47 L1466.7 300.55 L1466.9 299.99 L1467.1 299.8 L1467.27 300.13 L1467.45 301.08 L1467.62 302.61 L1467.79 304.66 L1467.97 307.17 L1468.14 310.1 L1468.31 313.4 L1468.48 317 L1468.66 320.87 L1468.83 324.95 L1469 329.18 L1469.18 333.51 L1469.35 337.9 L1469.52 342.29 L1469.7 346.62 L1469.87 350.85 L1470.04 354.93 L1470.22 358.8 L1470.39 362.4 L1470.56 365.7 L1470.73 368.63 L1470.91 371.14 L1471.08 373.19 L1471.25 374.72 L1471.43 375.67 L1471.6 376 L1471.9 375.51 L1472.2 374.16 L1472.5 372.15 L1472.8 369.68 L1473.1 366.93 L1473.4 364.12 L1473.7 361.42 L1474 359.04 L1474.3 357.17 L1474.6 356 L1474.88 355.41 L1475.15 354.96 L1475.42 354.61 L1475.7 354.3 L1475.97 353.99 L1476.25 353.62 L1476.52 353.14 L1476.8 352.5 L1476.93 351.95 L1477.05 350.99 L1477.18 349.64 L1477.31 347.94 L1477.43 345.89 L1477.56 343.53 L1477.68 340.87 L1477.81 337.95 L1477.94 334.78 L1478.06 331.38 L1478.19 327.79 L1478.32 324.02 L1478.44 320.1 L1478.57 316.04 L1478.69 311.88 L1478.82 307.64 L1478.95 303.34 L1479.07 298.99 L1479.2 294.64 L1479.33 290.29 L1479.45 285.97 L1479.58 281.71 L1479.71 277.53 L1479.83 273.45 L1479.96 269.5 L1480.08 265.69 L1480.21 262.05 L1480.34 258.61 L1480.46 255.39 L1480.59 252.41 L1480.72 249.69 L1480.84 247.26 L1480.97 245.14 L1481.09 243.35 L1481.22 241.92 L1481.35 240.87 L1481.47 240.22 L1481.6 240 L1481.89 240.3 L1482.19 241.17 L1482.48 242.53 L1482.77 244.31 L1483.07 246.45 L1483.36 248.87 L1483.65 251.51 L1483.95 254.29 L1484.24 257.15 L1484.53 260.01 L1484.83 262.81 L1485.12 265.48 L1485.41 267.95 L1485.71 270.15 L1486 272 L1486.29 273.71 L1486.59 275.48 L1486.88 277.3 L1487.17 279.13 L1487.47 280.96 L1487.76 282.76 L1488.06 284.51 L1488.35 286.18 L1488.64 287.74 L1488.94 289.17 L1489.23 290.45 L1489.53 291.56 L1489.82 292.46 L1490.11 293.13 L1490.41 293.55 L1490.7 293.7 L1490.88 293.45 L1491.06 292.7 L1491.25 291.5 L1491.43 289.87 L1491.61 287.84 L1491.79 285.45 L1491.98 282.72 L1492.16 279.68 L1492.34 276.37 L1492.52 272.82 L1492.71 269.05 L1492.89 265.09 L1493.07 260.99 L1493.25 256.76 L1493.44 252.44 L1493.62 248.06 L1493.8 243.65 L1493.98 239.24 L1494.16 234.86 L1494.35 230.54 L1494.53 226.31 L1494.71 222.21 L1494.89 218.25 L1495.08 214.48 L1495.26 210.93 L1495.44 207.62 L1495.62 204.58 L1495.81 201.85 L1495.99 199.46 L1496.17 197.43 L1496.35 195.8 L1496.54 194.6 L1496.72 193.85 L1496.9 193.6 L1497.08 193.8 L1497.26 194.4 L1497.44 195.37 L1497.63 196.7 L1497.81 198.37 L1497.99 200.35 L1498.17 202.63 L1498.35 205.19 L1498.53 208.01 L1498.71 211.07 L1498.9 214.35 L1499.08 217.83 L1499.26 221.49 L1499.44 225.32 L1499.62 229.29 L1499.8 233.39 L1499.98 237.59 L1500.17 241.88 L1500.35 246.24 L1500.53 250.64 L1500.71 255.08 L1500.89 259.52 L1501.07 263.96 L1501.25 268.36 L1501.43 272.72 L1501.62 277.01 L1501.8 281.21 L1501.98 285.31 L1502.16 289.28 L1502.34 293.11 L1502.52 296.77 L1502.7 300.25 L1502.89 303.53 L1503.07 306.59 L1503.25 309.41 L1503.43 311.97 L1503.61 314.25 L1503.79 316.23 L1503.97 317.9 L1504.16 319.23 L1504.34 320.2 L1504.52 320.8 L1504.7 321 L1504.99 320.8 L1505.29 320.22 L1505.58 319.32 L1505.88 318.14 L1506.17 316.72 L1506.47 315.11 L1506.76 313.37 L1507.06 311.53 L1507.35 309.65 L1507.64 307.77 L1507.94 305.93 L1508.23 304.19 L1508.53 302.58 L1508.82 301.16 L1509.12 299.98 L1509.41 299.08 L1509.71 298.5 L1510 298.3 L1510.2 298.52 L1510.41 299.16 L1510.62 300.21 L1510.82 301.63 L1511.03 303.41 L1511.23 305.53 L1511.43 307.96 L1511.64 310.68 L1511.85 313.66 L1512.05 316.89 L1512.26 320.35 L1512.46 324 L1512.66 327.84 L1512.87 331.83 L1513.08 335.95 L1513.28 340.19 L1513.49 344.51 L1513.69 348.9 L1513.89 353.34 L1514.1 357.8 L1514.31 362.26 L1514.51 366.7 L1514.71 371.09 L1514.92 375.41 L1515.12 379.65 L1515.33 383.77 L1515.54 387.76 L1515.74 391.6 L1515.94 395.25 L1516.15 398.71 L1516.36 401.94 L1516.56 404.92 L1516.77 407.64 L1516.97 410.07 L1517.17 412.19 L1517.38 413.97 L1517.59 415.39 L1517.79 416.44 L1518 417.08 L1518.2 417.3 L1518.4 417.11 L1518.61 416.55 L1518.81 415.64 L1519.02 414.4 L1519.22 412.84 L1519.43 410.97 L1519.63 408.82 L1519.83 406.41 L1520.04 403.74 L1520.24 400.84 L1520.45 397.72 L1520.65 394.4 L1520.86 390.89 L1521.06 387.22 L1521.27 383.4 L1521.47 379.44 L1521.67 375.37 L1521.88 371.19 L1522.08 366.93 L1522.29 362.61 L1522.49 358.23 L1522.7 353.83 L1522.9 349.4 L1523.1 344.97 L1523.31 340.57 L1523.51 336.19 L1523.72 331.87 L1523.92 327.61 L1524.13 323.43 L1524.33 319.36 L1524.53 315.4 L1524.74 311.58 L1524.94 307.91 L1525.15 304.4 L1525.35 301.08 L1525.56 297.96 L1525.76 295.06 L1525.97 292.39 L1526.17 289.98 L1526.37 287.83 L1526.58 285.96 L1526.78 284.4 L1526.99 283.16 L1527.19 282.25 L1527.4 281.69 L1527.6 281.5 L1527.89 281.51 L1528.19 281.55 L1528.48 281.63 L1528.77 281.73 L1529.07 281.86 L1529.36 282.04 L1529.65 282.24 L1529.95 282.49 L1530.24 282.78 L1530.53 283.12 L1530.83 283.49 L1531.12 283.92 L1531.41 284.4 L1531.71 284.92 L1532 285.5 L1532.06 285.86 L1532.11 286.71 L1532.17 287.99 L1532.22 289.7 L1532.28 291.78 L1532.34 294.22 L1532.39 296.97 L1532.45 300.02 L1532.51 303.33 L1532.56 306.86 L1532.62 310.59 L1532.67 314.48 L1532.73 318.51 L1532.79 322.64 L1532.84 326.84 L1532.9 331.09 L1532.96 335.34 L1533.01 339.57 L1533.07 343.74 L1533.12 347.83 L1533.18 351.81 L1533.24 355.64 L1533.29 359.29 L1533.35 362.73 L1533.41 365.94 L1533.46 368.87 L1533.52 371.49 L1533.58 373.79 L1533.63 375.72 L1533.69 377.25 L1533.74 378.35 L1533.8 379 L1534.1 380.88 L1534.4 382.28 L1534.7 383.34 L1535 384.22 L1535.3 385.06 L1535.6 386 L1535.89 387.07 L1536.18 388.2 L1536.48 389.39 L1536.77 390.59 L1537.06 391.79 L1537.35 392.95 L1537.65 394.04 L1537.94 395.04 L1538.23 395.93 L1538.52 396.66 L1538.82 397.22 L1539.11 397.58 L1539.4 397.7 L1539.49 397.61 L1539.58 397.33 L1539.68 396.87 L1539.77 396.23 L1539.86 395.43 L1539.95 394.46 L1540.04 393.32 L1540.14 392.02 L1540.23 390.58 L1540.32 388.98 L1540.41 387.24 L1540.51 385.35 L1540.6 383.33 L1540.69 381.18 L1540.78 378.9 L1540.87 376.49 L1540.97 373.97 L1541.06 371.33 L1541.15 368.59 L1541.24 365.73 L1541.33 362.78 L1541.43 359.72 L1541.52 356.58 L1541.61 353.35 L1541.7 350.03 L1541.79 346.63 L1541.89 343.16 L1541.98 339.62 L1542.07 336.01 L1542.16 332.34 L1542.26 328.61 L1542.35 324.82 L1542.44 320.99 L1542.53 317.12 L1542.62 313.2 L1542.72 309.25 L1542.81 305.26 L1542.9 301.25 L1542.99 297.22 L1543.08 293.17 L1543.18 289.1 L1543.27 285.03 L1543.36 280.94 L1543.45 276.86 L1543.54 272.79 L1543.64 268.72 L1543.73 264.66 L1543.82 260.62 L1543.91 256.6 L1544.01 252.6 L1544.1 248.64 L1544.19 244.71 L1544.28 240.81 L1544.37 236.96 L1544.47 233.16 L1544.56 229.41 L1544.65 225.72 L1544.74 222.08 L1544.83 218.52 L1544.93 215.02 L1545.02 211.59 L1545.11 208.24 L1545.2 204.98 L1545.29 201.8 L1545.39 198.71 L1545.48 195.72 L1545.57 192.82 L1545.66 190.03 L1545.76 187.35 L1545.85 184.79 L1545.94 182.34 L1546.03 180.01 L1546.12 177.81 L1546.22 175.73 L1546.31 173.8 L1546.4 172 L1546.6 168.19 L1546.8 164.3 L1547 160.37 L1547.2 156.46 L1547.4 152.62 L1547.6 148.91 L1547.8 145.36 L1548 142.04 L1548.2 139 L1548.4 136.28 L1548.6 133.94 L1548.8 132.03 L1549 130.6 L1549.2 129.71 L1549.4 129.4 L1549.56 129.52 L1549.72 129.87 L1549.88 130.44 L1550.04 131.23 L1550.2 132.23 L1550.36 133.43 L1550.52 134.83 L1550.68 136.42 L1550.84 138.19 L1551 140.13 L1551.16 142.24 L1551.32 144.51 L1551.48 146.94 L1551.65 149.51 L1551.81 152.22 L1551.97 155.06 L1552.13 158.02 L1552.29 161.1 L1552.45 164.29 L1552.61 167.59 L1552.77 170.98 L1552.93 174.46 L1553.09 178.02 L1553.25 181.66 L1553.41 185.37 L1553.57 189.13 L1553.73 192.95 L1553.89 196.82 L1554.05 200.72 L1554.21 204.66 L1554.37 208.62 L1554.53 212.6 L1554.69 216.59 L1554.85 220.58 L1555.01 224.57 L1555.17 228.55 L1555.33 232.52 L1555.49 236.45 L1555.65 240.36 L1555.82 244.22 L1555.98 248.04 L1556.14 251.81 L1556.3 255.52 L1556.46 259.16 L1556.62 262.72 L1556.78 266.21 L1556.94 269.6 L1557.1 272.9 L1557.26 276.09 L1557.42 279.18 L1557.58 282.14 L1557.74 284.99 L1557.9 287.7 L1558.09 290.91 L1558.28 294.3 L1558.47 297.83 L1558.66 301.44 L1558.84 305.11 L1559.03 308.8 L1559.22 312.45 L1559.41 316.04 L1559.6 319.52 L1559.79 322.85 L1559.98 325.99 L1560.17 328.91 L1560.36 331.55 L1560.54 333.88 L1560.73 335.86 L1560.92 337.45 L1561.11 338.61 L1561.3 339.3 L1561.59 339.96 L1561.88 340.58 L1562.17 341.17 L1562.46 341.72 L1562.75 342.24 L1563.04 342.73 L1563.33 343.18 L1563.62 343.6 L1563.91 343.98 L1564.2 344.33 L1564.49 344.65 L1564.78 344.93 L1565.07 345.18 L1565.36 345.4 L1565.65 345.58 L1565.94 345.73 L1566.23 345.85 L1566.52 345.93 L1566.81 345.98 L1567.1 346 L1567.2 345.84 L1567.31 345.38 L1567.41 344.63 L1567.52 343.6 L1567.62 342.3 L1567.73 340.74 L1567.83 338.95 L1567.94 336.92 L1568.04 334.68 L1568.15 332.24 L1568.25 329.6 L1568.36 326.78 L1568.46 323.8 L1568.57 320.66 L1568.67 317.38 L1568.77 313.97 L1568.88 310.44 L1568.98 306.82 L1569.09 303.09 L1569.19 299.29 L1569.3 295.43 L1569.4 291.51 L1569.51 287.55 L1569.61 283.55 L1569.72 279.55 L1569.82 275.54 L1569.93 271.53 L1570.03 267.55 L1570.13 263.61 L1570.24 259.7 L1570.34 255.86 L1570.45 252.09 L1570.55 248.4 L1570.66 244.81 L1570.76 241.33 L1570.87 237.97 L1570.97 234.74 L1571.08 231.66 L1571.18 228.74 L1571.29 225.99 L1571.39 223.43 L1571.5 221.06 L1571.6 218.9 L1571.8 215.1 L1572 211.52 L1572.2 208.15 L1572.4 204.95 L1572.6 201.91 L1572.8 199.01 L1573 196.23 L1573.2 193.54 L1573.4 190.92 L1573.6 188.36 L1573.8 185.83 L1574 183.3 L1574.2 180.77 L1574.4 178.19 L1574.6 175.57 L1574.8 172.87 L1575 170.06 L1575.2 167.14 L1575.4 164.08 L1575.6 160.86 L1575.8 157.45 L1576 153.84 L1576.2 150 L1576.31 147.7 L1576.42 145.08 L1576.52 142.18 L1576.63 139.03 L1576.74 135.67 L1576.85 132.12 L1576.95 128.42 L1577.06 124.6 L1577.17 120.7 L1577.28 116.75 L1577.38 112.78 L1577.49 108.83 L1577.6 104.92 L1577.71 101.1 L1577.82 97.39 L1577.92 93.83 L1578.03 90.46 L1578.14 87.29 L1578.25 84.38 L1578.35 81.74 L1578.46 79.42 L1578.57 77.45 L1578.68 75.86 L1578.78 74.68 L1578.89 73.95 L1579 73.7 L1579.16 73.88 L1579.33 74.41 L1579.49 75.28 L1579.65 76.46 L1579.82 77.95 L1579.98 79.74 L1580.14 81.79 L1580.31 84.11 L1580.47 86.68 L1580.63 89.47 L1580.8 92.48 L1580.96 95.7 L1581.12 99.09 L1581.29 102.66 L1581.45 106.39 L1581.61 110.26 L1581.78 114.25 L1581.94 118.36 L1582.1 122.56 L1582.27 126.85 L1582.43 131.2 L1582.59 135.61 L1582.76 140.05 L1582.92 144.51 L1583.08 148.99 L1583.24 153.45 L1583.41 157.89 L1583.57 162.3 L1583.73 166.65 L1583.9 170.94 L1584.06 175.14 L1584.22 179.25 L1584.39 183.24 L1584.55 187.11 L1584.71 190.84 L1584.88 194.41 L1585.04 197.8 L1585.2 201.02 L1585.37 204.03 L1585.53 206.82 L1585.69 209.39 L1585.86 211.71 L1586.02 213.76 L1586.18 215.55 L1586.35 217.04 L1586.51 218.22 L1586.67 219.09 L1586.84 219.62 L1587 219.8 L1587.01 219.71 L1587.03 219.46 L1587.04 219.04 L1587.06 218.46 L1587.07 217.72 L1587.08 216.83 L1587.1 215.78 L1587.11 214.59 L1587.12 213.25 L1587.14 211.78 L1587.15 210.16 L1587.17 208.41 L1587.18 206.53 L1587.19 204.53 L1587.21 202.4 L1587.22 200.15 L1587.24 197.78 L1587.25 195.3 L1587.26 192.71 L1587.28 190.02 L1587.29 187.22 L1587.3 184.33 L1587.32 181.33 L1587.33 178.25 L1587.35 175.08 L1587.36 171.82 L1587.37 168.48 L1587.39 165.06 L1587.4 161.56 L1587.41 158 L1587.43 154.36 L1587.44 150.67 L1587.46 146.91 L1587.47 143.09 L1587.48 139.22 L1587.5 135.3 L1587.51 131.33 L1587.53 127.32 L1587.54 123.27 L1587.55 119.18 L1587.57 115.06 L1587.58 110.91 L1587.59 106.73 L1587.61 102.53 L1587.62 98.31 L1587.64 94.07 L1587.65 89.82 L1587.66 85.56 L1587.68 81.3 L1587.69 77.04 L1587.71 72.77 L1587.72 68.51 L1587.73 64.26 L1587.75 60.02 L1587.76 55.8 L1587.77 51.6 L1587.79 47.41 L1587.8 43.26 L1587.82 39.13 L1587.83 35.03 L1587.84 30.98 L1587.86 26.96 L1587.87 22.98 L1587.89 19.05 L1587.9 15.17 L1587.91 11.34 L1587.93 7.58 L1587.94 3.87 L1587.95 0.22 L1587.97 -3.36 L1587.98 -6.86 L1588 -10.3 L1588.01 -13.65 L1588.02 -16.92 L1588.04 -20.11 L1588.05 -23.21 L1588.06 -26.22 L1588.08 -29.14 L1588.09 -31.95 L1588.11 -34.67 L1588.12 -37.27 L1588.13 -39.77 L1588.15 -42.16 L1588.16 -44.43 L1588.18 -46.58 L1588.19 -48.61 L1588.2 -50.51 L1588.22 -52.28 L1588.23 -53.92 L1588.24 -55.43 L1588.26 -56.79 L1588.27 -58.01 L1588.29 -59.08 L1588.3 -60 L1588.4 -66.04 L1588.5 -71.93 L1588.6 -77.69 L1588.7 -83.31 L1588.8 -88.8 L1588.9 -94.14 L1589 -99.35 L1589.1 -104.42 L1589.2 -109.36 L1589.3 -114.16 L1589.4 -118.82 L1589.5 -123.35 L1589.6 -127.75 L1589.7 -132.01 L1589.8 -136.14 L1589.9 -140.13 L1590 -143.99 L1590.1 -147.72 L1590.2 -151.32 L1590.3 -154.78 L1590.4 -158.11 L1590.5 -161.31 L1590.6 -164.39 L1590.7 -167.33 L1590.8 -170.14 L1590.9 -172.82 L1591 -175.38 L1591.1 -177.8 L1591.2 -180.1 L1591.3 -182.27 L1591.4 -184.31 L1591.5 -186.22 L1591.6 -188.01 L1591.7 -189.68 L1591.8 -191.21 L1591.9 -192.62 L1592 -193.91 L1592.1 -195.07 L1592.2 -196.11 L1592.3 -197.03 L1592.4 -197.82 L1592.5 -198.49 L1592.6 -199.03 L1592.7 -199.46 L1592.8 -199.76 L1592.9 -199.94 L1593 -200 L1593.1 -199.98 L1593.2 -199.92 L1593.29 -199.8 L1593.39 -199.64 L1593.49 -199.41 L1593.59 -199.12 L1593.69 -198.75 L1593.78 -198.31 L1593.88 -197.78 L1593.98 -197.16 L1594.08 -196.45 L1594.17 -195.64 L1594.27 -194.73 L1594.37 -193.7 L1594.47 -192.55 L1594.57 -191.28 L1594.66 -189.89 L1594.76 -188.36 L1594.86 -186.69 L1594.96 -184.87 L1595.06 -182.9 L1595.15 -180.78 L1595.25 -178.49 L1595.35 -176.03 L1595.45 -173.4 L1595.54 -170.59 L1595.64 -167.59 L1595.74 -164.41 L1595.84 -161.02 L1595.94 -157.44 L1596.03 -153.64 L1596.13 -149.64 L1596.23 -145.41 L1596.33 -140.96 L1596.43 -136.27 L1596.52 -131.35 L1596.62 -126.19 L1596.72 -120.78 L1596.82 -115.12 L1596.91 -109.19 L1597.01 -103.01 L1597.11 -96.55 L1597.21 -89.81 L1597.31 -82.8 L1597.4 -75.49 L1597.5 -67.9 L1597.6 -60 L1597.6 -59.75 L1597.61 -59.42 L1597.61 -59 L1597.61 -58.5 L1597.61 -57.92 L1597.62 -57.26 L1597.62 -56.52 L1597.62 -55.7 L1597.62 -54.81 L1597.62 -53.83 L1597.63 -52.78 L1597.63 -51.66 L1597.63 -50.46 L1597.63 -49.19 L1597.64 -47.85 L1597.64 -46.44 L1597.64 -44.95 L1597.64 -43.4 L1597.65 -41.78 L1597.65 -40.09 L1597.65 -38.34 L1597.65 -36.52 L1597.66 -34.64 L1597.66 -32.69 L1597.66 -30.69 L1597.66 -28.62 L1597.67 -26.49 L1597.67 -24.3 L1597.67 -22.06 L1597.67 -19.75 L1597.68 -17.39 L1597.68 -14.98 L1597.68 -12.51 L1597.68 -9.98 L1597.69 -7.41 L1597.69 -4.78 L1597.69 -2.11 L1597.69 0.62 L1597.7 3.4 L1597.7 6.22 L1597.7 9.09 L1597.7 12 L1597.71 14.96 L1597.71 17.97 L1597.71 21.01 L1597.71 24.1 L1597.72 27.23 L1597.72 30.4 L1597.72 33.6 L1597.72 36.85 L1597.73 40.13 L1597.73 43.45 L1597.73 46.8 L1597.73 50.18 L1597.74 53.6 L1597.74 57.05 L1597.74 60.54 L1597.74 64.05 L1597.75 67.59 L1597.75 71.16 L1597.75 74.76 L1597.76 78.38 L1597.76 82.03 L1597.76 85.7 L1597.76 89.4 L1597.77 93.11 L1597.77 96.85 L1597.77 100.61 L1597.77 104.39 L1597.78 108.19 L1597.78 112 L1597.78 115.83 L1597.78 119.68 L1597.79 123.54 L1597.79 127.41 L1597.79 131.3 L1597.79 135.2 L1597.8 139.11 L1597.8 143.03 L1597.8 146.96 L1597.8 150.89 L1597.81 154.83 L1597.81 158.78 L1597.81 162.73 L1597.81 166.69 L1597.82 170.65 L1597.82 174.61 L1597.82 178.57 L1597.82 182.53 L1597.83 186.49 L1597.83 190.45 L1597.83 194.41 L1597.83 198.36 L1597.84 202.31 L1597.84 206.25 L1597.84 210.18 L1597.84 214.11 L1597.85 218.02 L1597.85 221.93 L1597.85 225.83 L1597.85 229.71 L1597.86 233.58 L1597.86 237.44 L1597.86 241.29 L1597.86 245.11 L1597.87 248.93 L1597.87 252.72 L1597.87 256.5 L1597.87 260.25 L1597.88 263.99 L1597.88 267.7 L1597.88 271.39 L1597.88 275.06 L1597.88 278.7 L1597.89 282.32 L1597.89 285.91 L1597.89 289.48 L1597.89 293.02 L1597.9 296.52 L1597.9 300 L1597.9 302.59 L1597.9 305.19 L1597.91 307.81 L1597.91 310.43 L1597.91 313.06 L1597.91 315.7 L1597.91 318.35 L1597.91 321 L1597.92 323.67 L1597.92 326.34 L1597.92 329.03 L1597.92 331.72 L1597.92 334.42 L1597.93 337.14 L1597.93 339.85 L1597.93 342.58 L1597.93 345.32 L1597.93 348.06 L1597.94 350.82 L1597.94 353.58 L1597.94 356.35 L1597.94 359.13 L1597.94 361.92 L1597.94 364.71 L1597.95 367.52 L1597.95 370.33 L1597.95 373.15 L1597.95 375.98 L1597.95 378.81 L1597.96 381.65 L1597.96 384.51 L1597.96 387.37 L1597.96 390.23 L1597.96 393.11 L1597.97 395.99 L1597.97 398.88 L1597.97 401.78 L1597.97 404.68 L1597.97 407.59 L1597.97 410.51 L1597.98 413.44 L1597.98 416.37 L1597.98 419.31 L1597.98 422.26 L1597.98 425.22 L1597.99 428.18 L1597.99 431.15 L1597.99 434.13 L1597.99 437.11 L1597.99 440.1 L1598 443.09 L1598 446.1 L1598 449.11 L1598 452.12 L1598 455.15 L1598 458.18 L1598.01 461.21 L1598.01 464.26 L1598.01 467.3 L1598.01 470.36 L1598.01 473.42 L1598.02 476.49 L1598.02 479.56 L1598.02 482.64 L1598.02 485.73 L1598.02 488.82 L1598.03 491.91 L1598.03 495.02 L1598.03 498.13 L1598.03 501.24 L1598.03 504.36 L1598.03 507.49 L1598.04 510.62 L1598.04 513.75 L1598.04 516.9 L1598.04 520.04 L1598.04 523.2 L1598.05 526.36 L1598.05 529.52 L1598.05 532.69 L1598.05 535.86 L1598.05 539.04 L1598.06 542.22 L1598.06 545.41 L1598.06 548.61 L1598.06 551.81 L1598.06 555.01 L1598.06 558.22 L1598.07 561.43 L1598.07 564.65 L1598.07 567.87 L1598.07 571.1 L1598.07 574.33 L1598.08 577.56 L1598.08 580.8 L1598.08 584.05 L1598.08 587.29 L1598.08 590.55 L1598.09 593.8 L1598.09 597.06 L1598.09 600.33 L1598.09 603.6 L1598.09 606.87 L1598.09 610.15 L1598.1 613.43 L1598.1 616.71 L1598.1 620" fill="none" stroke="#000" stroke-width="4.8" stroke-linejoin="round" stroke-linecap="round"/>
<polygon fill="#6C14C4" points="949.3,440.95 942.9,452.25 955.7,452.25"/>
<polygon fill="#6C14C4" points="969.7,444.85 963.3,456.15 976.1,456.15"/>
<polygon fill="#6C14C4" points="990.2,453.45 983.8,464.75 996.6,464.75"/>
<polygon fill="#6C14C4" points="1010.6,460.75 1004.2,472.05 1017,472.05"/>
<polygon fill="#6C14C4" points="1031.1,467.35 1024.7,478.65 1037.5,478.65"/>
<polygon fill="#6C14C4" points="1051.6,471.95 1045.2,483.25 1058,483.25"/>
<polygon fill="#6C14C4" points="1072,475.65 1065.6,486.95 1078.4,486.95"/>
<polygon fill="#6C14C4" points="1092.8,478.65 1086.4,489.95 1099.2,489.95"/>
<polygon fill="#6C14C4" points="1113.2,479.65 1106.8,490.95 1119.6,490.95"/>
<polygon fill="#6C14C4" points="1133.7,479.25 1127.3,490.55 1140.1,490.55"/>
<polygon fill="#6C14C4" points="1154.1,478.95 1147.7,490.25 1160.5,490.25"/>
<polygon fill="#6C14C4" points="1174.9,477.05 1168.5,488.35 1181.3,488.35"/>
<polygon fill="#6C14C4" points="1195.4,471.35 1189,482.65 1201.8,482.65"/>
<polygon fill="#6C14C4" points="1215.8,467.75 1209.4,479.05 1222.2,479.05"/>
<polygon fill="#6C14C4" points="1236.6,464.75 1230.2,476.05 1243,476.05"/>
<polygon fill="#6C14C4" points="1257.4,460.25 1251,471.55 1263.8,471.55"/>
<polygon fill="#6C14C4" points="1277.5,458.55 1271.1,469.85 1283.9,469.85"/>
<polygon fill="#6C14C4" points="1297.9,456.55 1291.5,467.85 1304.3,467.85"/>
<polygon fill="#6C14C4" points="1318.7,451.65 1312.3,462.95 1325.1,462.95"/>
<polygon fill="#6C14C4" points="1339.2,445.05 1332.8,456.35 1345.6,456.35"/>
<polygon fill="#6C14C4" points="1360,438.45 1353.6,449.75 1366.4,449.75"/>
<polygon fill="#6C14C4" points="1380.8,428.85 1374.4,440.15 1387.2,440.15"/>
<polygon fill="#6C14C4" points="1400.9,413.75 1394.5,425.05 1407.3,425.05"/>
<polygon fill="#6C14C4" points="1421.7,389.85 1415.3,401.15 1428.1,401.15"/>
<polygon fill="#6C14C4" points="1441.8,347.25 1435.4,358.55 1448.2,358.55"/>
<polygon fill="#6C14C4" points="1462.5,178.85 1456.1,190.15 1468.9,190.15"/>
<polygon fill="#6C14C4" points="1483.1,201.15 1476.7,212.45 1489.5,212.45"/>
<polygon fill="#6C14C4" points="1503.5,77.15 1497.1,88.45 1509.9,88.45"/>
<polygon fill="#6C14C4" points="1523,-66.05 1516.6,-54.75 1529.4,-54.75"/>
</g>
<rect x="1315.8" y="486.8" width="318.9" height="82.2" fill="#fff" stroke="#a0a0a0" stroke-width="1.9"/>
<line x1="1318" y1="507.6" x2="1393" y2="507.6" stroke="#000" stroke-width="5.2"/>
<text x="1400.5" y="518.5" font-size="32" fill="#111" stroke="#111" textLength="229" lengthAdjust="spacingAndGlyphs">Cell Heating Rate</text>
<line x1="1320" y1="548.2" x2="1392" y2="548.2" stroke="#a4a4a4" stroke-width="1.7"/>
<polygon fill="#6C14C4" points="1356.4,541.3 1350.2,551.9 1362.6,551.9"/>
<text x="1400.5" y="558.2" font-size="32" fill="#111" stroke="#111" textLength="85.5" lengthAdjust="spacingAndGlyphs">0.1 Hz</text>
<rect x="943.6" y="14.9" width="703.4" height="567" fill="none" stroke="#3a3a3a" stroke-width="2.8"/>
<line x1="943.4" y1="15.1" x2="943.4" y2="581.9" stroke="#3a3a3a" stroke-width="3.4"/>
<path d="M943.6 581.9 v-10.5 M993.84 581.9 v-5.5 M1044.09 581.9 v-10.5 M1094.33 581.9 v-5.5 M1144.57 581.9 v-10.5 M1194.81 581.9 v-5.5 M1245.06 581.9 v-10.5 M1295.3 581.9 v-5.5 M1345.54 581.9 v-10.5 M1395.79 581.9 v-5.5 M1446.03 581.9 v-10.5 M1496.27 581.9 v-5.5 M1546.51 581.9 v-10.5 M1596.76 581.9 v-5.5 M1647 581.9 v-10.5 M943.6 581.9 h10.5 M943.6 525.22 h5.5 M943.6 468.54 h10.5 M943.6 411.86 h5.5 M943.6 355.18 h10.5 M943.6 298.5 h5.5 M943.6 241.82 h10.5 M943.6 185.14 h5.5 M943.6 128.46 h10.5 M943.6 71.78 h5.5 M943.6 15.1 h10.5 M1647 581.9 h-10.5 M1647 534.67 h-5.5 M1647 487.43 h-10.5 M1647 440.2 h-5.5 M1647 392.97 h-10.5 M1647 345.73 h-5.5 M1647 298.5 h-10.5 M1647 251.27 h-5.5 M1647 204.03 h-10.5 M1647 156.8 h-5.5 M1647 109.57 h-10.5 M1647 62.33 h-5.5 M1647 15.1 h-10.5" fill="none" stroke="#262626" stroke-width="2.5"/>
<g class="tk" font-weight="bold" font-size="33.8" fill="#0d0d0d" stroke="#0d0d0d">
<text transform="translate(931,591.6) scale(0.98,1)" text-anchor="end">0</text>
<text transform="translate(931,478.24) scale(0.98,1)" text-anchor="end">2</text>
<text transform="translate(931,364.88) scale(0.98,1)" text-anchor="end">4</text>
<text transform="translate(931,251.52) scale(0.98,1)" text-anchor="end">6</text>
<text transform="translate(931,138.16) scale(0.98,1)" text-anchor="end">8</text>
<text transform="translate(931,24.8) scale(0.98,1)" text-anchor="end">10</text>
<text transform="translate(943.6,620) scale(0.98,1)" text-anchor="middle">0</text>
<text transform="translate(1044.09,620) scale(0.98,1)" text-anchor="middle">5</text>
<text transform="translate(1144.57,620) scale(0.98,1)" text-anchor="middle">10</text>
<text transform="translate(1245.06,620) scale(0.98,1)" text-anchor="middle">15</text>
<text transform="translate(1345.54,620) scale(0.98,1)" text-anchor="middle">20</text>
<text transform="translate(1446.03,620) scale(0.98,1)" text-anchor="middle">25</text>
<text transform="translate(1546.51,620) scale(0.98,1)" text-anchor="middle">30</text>
<text transform="translate(1647,620) scale(0.98,1)" text-anchor="middle">35</text>
</g>
<g class="tk" font-weight="bold" font-size="33.8" fill="#6C14C4" stroke="#6C14C4">
<text transform="translate(1658.7,592.3) scale(0.98,1)">0.000</text>
<text transform="translate(1658.7,497.83) scale(0.98,1)">0.006</text>
<text transform="translate(1658.7,403.37) scale(0.98,1)">0.012</text>
<text transform="translate(1658.7,308.9) scale(0.98,1)">0.018</text>
<text transform="translate(1658.7,214.43) scale(0.98,1)">0.024</text>
<text transform="translate(1658.7,119.97) scale(0.98,1)">0.030</text>
<text transform="translate(1658.7,25.5) scale(0.98,1)">0.036</text>
</g>
<text x="949.4" y="63.4" font-size="48" fill="#111" stroke="#111">(b)</text>
<text x="1088.6" y="404.4" font-size="32" fill="#2458A6" stroke="#2458A6" text-anchor="middle" textLength="182" lengthAdjust="spacingAndGlyphs">failure marker</text>
<text x="1088" y="433.1" font-size="32" fill="#2458A6" stroke="#2458A6" text-anchor="middle" textLength="95.5" lengthAdjust="spacingAndGlyphs">(82 °C)</text>
<polygon fill="#1976CC" points="1133.3,462.2 1135.95,470.35 1144.52,470.35 1137.59,475.39 1140.24,483.55 1133.3,478.51 1126.36,483.55 1129.01,475.39 1122.08,470.35 1130.65,470.35"/>
<line x1="1125.1" y1="469.5" x2="1098.16" y2="448.02" stroke="#333" stroke-width="1.2"/>
<polygon fill="#000" points="1087.6,439.6 1095.91,450.83 1100.4,445.2"/>
<text x="1195" y="686.1" font-size="47.5" fill="#111" stroke="#111" textLength="199" lengthAdjust="spacingAndGlyphs">Time, min</text>
<g transform="translate(860.5,0) rotate(-90)"><text x="-481.7" y="0" font-size="46.5" fill="#111" stroke="#111" textLength="407.4" lengthAdjust="spacingAndGlyphs">Heating Rate, °C/min</text></g>
<g transform="translate(1804,0) rotate(-90)" fill="#6C14C4" stroke="#6C14C4" font-size="46.5">
<text x="-582.3" y="0" textLength="205" lengthAdjust="spacingAndGlyphs">Impedance</text>
<text x="-364.4" y="0" textLength="207.2" lengthAdjust="spacingAndGlyphs">Magnitude</text>
<text x="-151.2" y="-7" font-size="56">|</text>
<text x="-132.2" y="0" font-size="48.5" textLength="31.5" lengthAdjust="spacingAndGlyphs">Z</text>
<text x="-92.9" y="-7" font-size="56">|</text>
<text x="-72" y="0">,</text>
<text x="-48.2" y="0" font-size="48.5" textLength="37" lengthAdjust="spacingAndGlyphs">Ω</text>
</g>
</g>
</g>
</svg>
</body>
</html>
